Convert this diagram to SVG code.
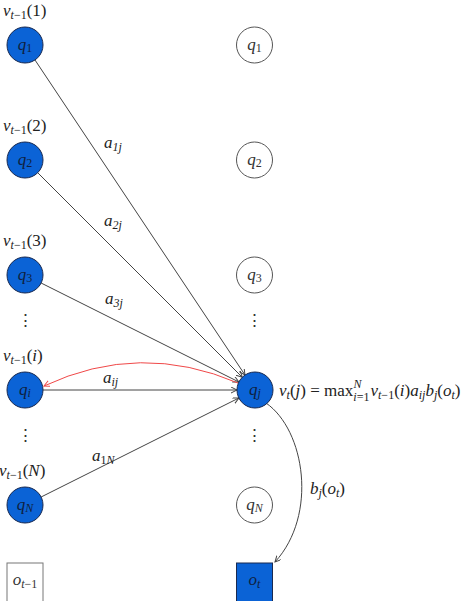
<svg xmlns="http://www.w3.org/2000/svg" width="474" height="601" viewBox="0 0 474 601" font-family="'Liberation Serif','Times New Roman',Times,'DejaVu Serif','Noto Serif',serif">
<style>
text{font-family:'Liberation Serif','Times New Roman',Times,'DejaVu Serif','Noto Serif',serif;}
.lbl{font-size:17px;fill:#222;font-style:italic;}
.up{font-style:normal;}
.sub{font-size:12px;}
.node-on{fill:#0b63d6;stroke:#1a2a50;stroke-width:1;}
.node-off{fill:#fff;stroke:#555;stroke-width:1;}
.tin{font-size:17px;font-style:italic;fill:#0f1f40;text-anchor:middle;}
.tout{font-size:17px;font-style:italic;fill:#333;text-anchor:middle;}
.edge{stroke:#444;stroke-width:1;fill:none;marker-end:url(#arr);}
.red{stroke:#f04848;stroke-width:1;fill:none;marker-end:url(#arrR);}
.dots{font-size:17px;fill:#333;text-anchor:middle;}
</style>
<defs>
<marker id="arr" markerWidth="8" markerHeight="8" refX="6" refY="3" orient="auto" markerUnits="userSpaceOnUse">
<path d="M0,0 L6,3 L0,6" fill="none" stroke="#444" stroke-width="1"/>
</marker>
<marker id="arrR" markerWidth="8" markerHeight="8" refX="6" refY="3" orient="auto" markerUnits="userSpaceOnUse">
<path d="M0,0 L6,3 L0,6" fill="none" stroke="#f04848" stroke-width="1"/>
</marker>
</defs>

<g id="connectors">
<line class="edge" x1="35" y1="60" x2="245" y2="375"/>
<line class="edge" x1="37.7" y1="172.7" x2="242.3" y2="377.3"/>
<line class="edge" x1="41.1" y1="283" x2="238.9" y2="382"/>
<line class="edge" x1="43" y1="390" x2="237" y2="390"/>
<line class="edge" x1="41.1" y1="497" x2="238.9" y2="398"/>
<path class="red" d="M238,383 Q140,341 44,386"/>
<path class="edge" d="M266,403 C305,430 318,515 275,562"/>
<text class="lbl" x="104" y="148">a<tspan class="sub" dy="3">1<tspan font-style="italic">j</tspan></tspan></text>
<text class="lbl" x="104" y="226">a<tspan class="sub" dy="3">2<tspan font-style="italic">j</tspan></tspan></text>
<text class="lbl" x="105" y="304">a<tspan class="sub" dy="3">3<tspan font-style="italic">j</tspan></tspan></text>
<text class="lbl" x="103" y="383">a<tspan class="sub" dy="3">ij</tspan></text>
<text class="lbl" x="92" y="461">a<tspan class="sub" dy="3"><tspan font-style="normal">1</tspan>N</tspan></text>
<text class="lbl" x="310" y="494">b<tspan class="sub" dy="3">j</tspan><tspan class="up" dy="-3">(</tspan>o<tspan class="sub" dy="3">t</tspan><tspan class="up" dy="-3">)</tspan></text>
</g>

<g id="left-labels">
<text class="lbl" x="3" y="16">v<tspan class="sub" dy="3">t<tspan class="up">−1</tspan></tspan><tspan class="up" dy="-3">(1)</tspan></text>
<text class="lbl" x="3" y="131">v<tspan class="sub" dy="3">t<tspan class="up">−1</tspan></tspan><tspan class="up" dy="-3">(2)</tspan></text>
<text class="lbl" x="3" y="246">v<tspan class="sub" dy="3">t<tspan class="up">−1</tspan></tspan><tspan class="up" dy="-3">(3)</tspan></text>
<text class="lbl" x="3" y="361">v<tspan class="sub" dy="3">t<tspan class="up">−1</tspan></tspan><tspan class="up" dy="-3">(</tspan>i<tspan class="up">)</tspan></text>
<text class="lbl" x="-1" y="476">v<tspan class="sub" dy="3">t<tspan class="up">−1</tspan></tspan><tspan class="up" dy="-3">(</tspan>N<tspan class="up">)</tspan></text>
<text class="dots" x="25" y="326">⋮</text>
<text class="dots" x="25" y="441">⋮</text>
<text class="dots" x="254" y="326">⋮</text>
<text class="dots" x="254" y="441">⋮</text>
</g>

<g id="n-q1-prev"><circle class="node-on" cx="25" cy="45" r="18"/><text class="tin" x="25" y="50">q<tspan class="sub" dy="2" font-style="normal">1</tspan></text></g>
<g id="n-q2-prev"><circle class="node-on" cx="25" cy="160" r="18"/><text class="tin" x="25" y="165">q<tspan class="sub" dy="2" font-style="normal">2</tspan></text></g>
<g id="n-q3-prev"><circle class="node-on" cx="25" cy="275" r="18"/><text class="tin" x="25" y="280">q<tspan class="sub" dy="2" font-style="normal">3</tspan></text></g>
<g id="n-qi-prev"><circle class="node-on" cx="25" cy="390" r="18"/><text class="tin" x="25" y="395">q<tspan class="sub" dy="2">i</tspan></text></g>
<g id="n-qN-prev"><circle class="node-on" cx="25" cy="505" r="18"/><text class="tin" x="25" y="510">q<tspan class="sub" dy="2">N</tspan></text></g>

<g id="n-q1"><circle class="node-off" cx="254.5" cy="45" r="18"/><text class="tout" x="254.5" y="50">q<tspan class="sub" dy="2" font-style="normal">1</tspan></text></g>
<g id="n-q2"><circle class="node-off" cx="254.5" cy="160" r="18"/><text class="tout" x="254.5" y="165">q<tspan class="sub" dy="2" font-style="normal">2</tspan></text></g>
<g id="n-q3"><circle class="node-off" cx="254.5" cy="275" r="18"/><text class="tout" x="254.5" y="280">q<tspan class="sub" dy="2" font-style="normal">3</tspan></text></g>
<g id="n-qj"><circle class="node-on" cx="255" cy="390" r="18"/><text class="tin" x="255" y="395">q<tspan class="sub" dy="2">j</tspan></text></g>
<g id="n-qN"><circle class="node-off" cx="254.5" cy="505" r="18"/><text class="tout" x="254.5" y="510">q<tspan class="sub" dy="2">N</tspan></text></g>

<g id="n-ot-prev"><rect x="7" y="563" width="36" height="40" fill="#fff" stroke="#777" stroke-width="1"/><text class="tout" x="25" y="585">o<tspan class="sub" dy="3">t<tspan font-style="normal">−1</tspan></tspan></text></g>
<g id="n-ot"><rect x="236.5" y="563" width="36" height="40" class="node-on"/><text class="tin" x="254.5" y="585">o<tspan class="sub" dy="3">t</tspan></text></g>

<g id="formula">
<text class="lbl" x="279" y="396">v<tspan class="sub" dy="3">t</tspan><tspan class="up" dy="-3">(</tspan>j<tspan class="up">) = max</tspan><tspan class="sub" dy="5">i<tspan class="up">=1</tspan></tspan><tspan class="sub" dx="-16" dy="-13">N</tspan><tspan dx="9" dy="8">v</tspan><tspan class="sub" dy="3">t<tspan class="up">−1</tspan></tspan><tspan class="up" dy="-3">(</tspan>i<tspan class="up">)</tspan>a<tspan class="sub" dy="3">ij</tspan><tspan dy="-3">b</tspan><tspan class="sub" dy="3">j</tspan><tspan class="up" dy="-3">(</tspan>o<tspan class="sub" dy="3">t</tspan><tspan class="up" dy="-3">)</tspan></text>
</g>
</svg>
